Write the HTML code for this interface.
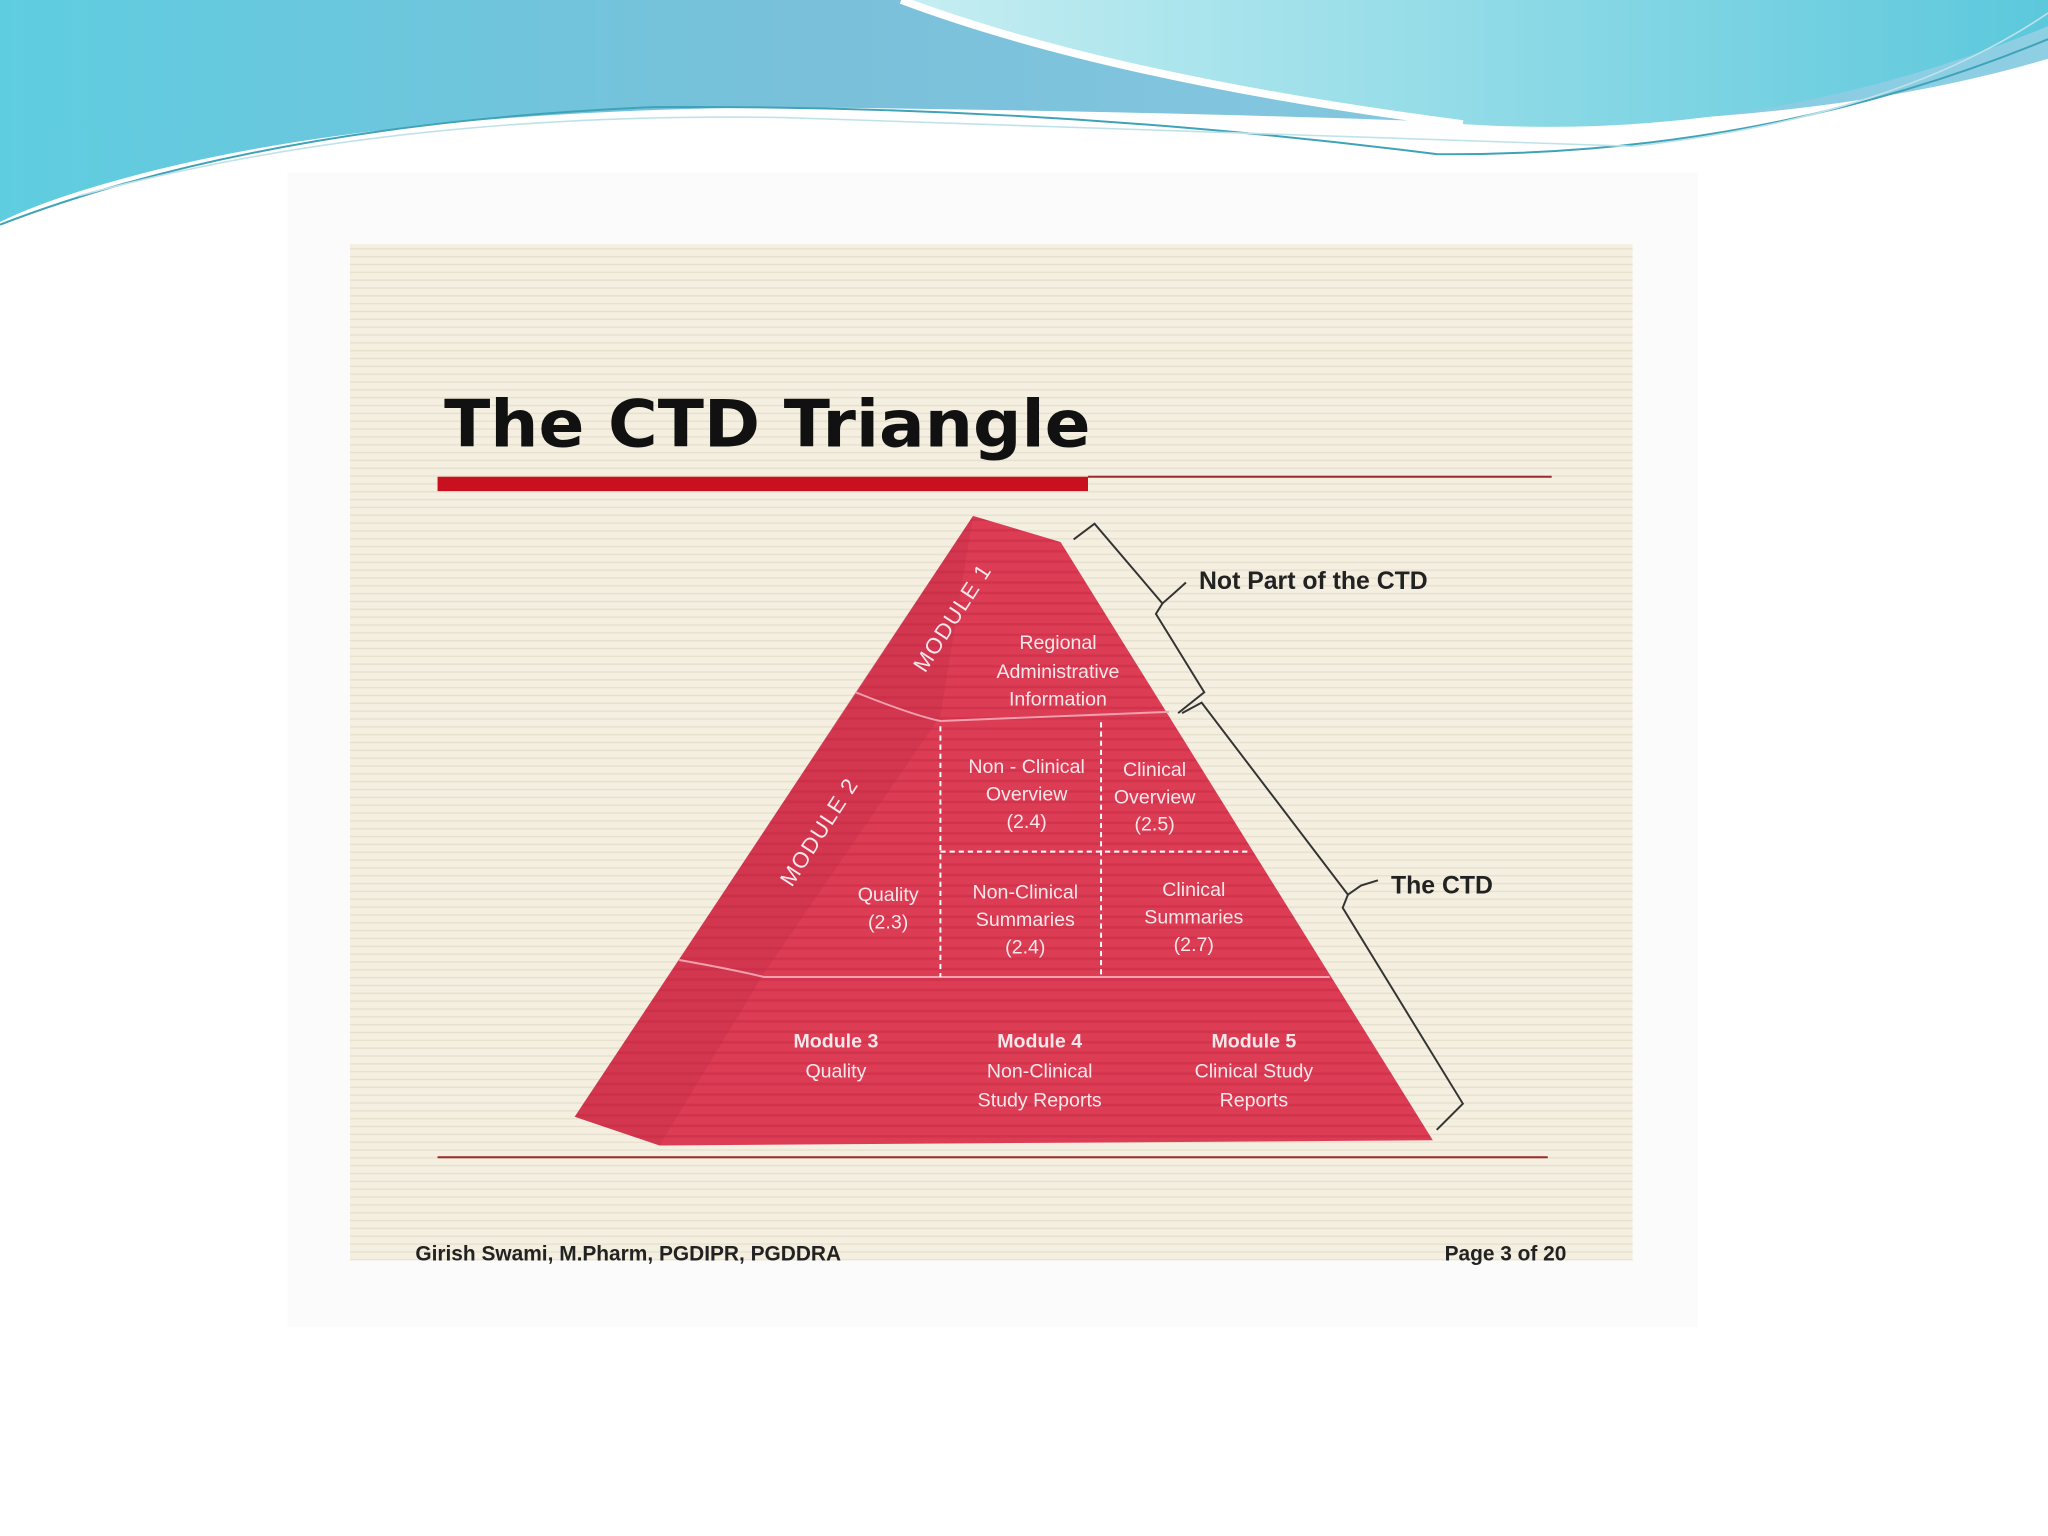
<!DOCTYPE html>
<html><head><meta charset="utf-8"><style>
html,body{margin:0;padding:0;background:#fff;}
svg{display:block;}
</style></head><body>
<svg width="2048" height="1536" viewBox="0 0 1568 1176" xmlns="http://www.w3.org/2000/svg">
<defs>
<linearGradient id="bl" x1="0" y1="0" x2="1" y2="0">
<stop offset="0" stop-color="#5fcde0"/><stop offset="0.4" stop-color="#7ac0da"/><stop offset="1" stop-color="#8ecfe4"/>
</linearGradient>
<linearGradient id="cy" x1="0" y1="0" x2="1" y2="0">
<stop offset="0" stop-color="#c6eef2"/><stop offset="1" stop-color="#5cc8dc"/>
</linearGradient>
<pattern id="lines" width="4" height="6" patternUnits="userSpaceOnUse">
<rect width="4" height="6" fill="#f4efe0"/><rect y="4" width="4" height="1" fill="#e6dfcc"/>
</pattern>
<pattern id="rl" width="4" height="8" patternUnits="userSpaceOnUse">
<rect width="4" height="8" fill="#dc3d55"/><rect y="5" width="4" height="2" fill="#d2334c"/>
</pattern>
</defs>
<rect width="1568" height="1176" fill="#fff"/>
<path d="M0,0 L1568,0 L1568,45 Q1400,95 1150,95 Q900,85 600,82 Q300,85 120,130 Q40,150 0,170 Z" fill="url(#bl)"/>
<path d="M690,0 Q850,60 1120,95 Q1350,110 1568,20 L1568,0 Z" fill="url(#cy)"/>
<path d="M690,0 Q850,60 1120,95" stroke="#fff" stroke-width="6" fill="none"/>
<path d="M0,172 Q200,95 500,82 Q800,80 1100,118 Q1350,120 1568,30" stroke="#3fa3b8" stroke-width="1.5" fill="none"/>
<path d="M60,150 Q300,85 600,90 Q900,100 1250,112 Q1450,90 1568,10" stroke="#bfe2ea" stroke-width="1.2" fill="none"/>
<rect x="220" y="132" width="1080" height="884" fill="#fbfbfb"/>
<rect x="268" y="187" width="982" height="778" fill="url(#lines)"/>
<text x="340" y="342" font-family="DejaVu Sans, sans-serif" font-weight="bold" font-size="50" fill="#111" textLength="495" lengthAdjust="spacingAndGlyphs">The CTD Triangle</text>
<rect x="335" y="365" width="498" height="11" fill="#c8101e"/>
<line x1="833" y1="365" x2="1188" y2="365" stroke="#9b2a2a" stroke-width="1.5"/>
<line x1="335" y1="886" x2="1185" y2="886" stroke="#9b2a2a" stroke-width="1.5"/>
<path d="M745,395 L812,415 L1097,873 L505,877 L440,855 Z" fill="url(#rl)"/>
<path d="M745,395 L655,530 L520,735 L440,855 L505,877 L585,745 L720,548 Z" fill="#c42b44" opacity="0.35"/>
<path d="M655,530 Q700,548 720,552 L895,545" stroke="#f2a0ae" stroke-width="1.5" fill="none"/>
<path d="M520,735 Q560,742 585,748 L1018,748" stroke="#f2a0ae" stroke-width="1.5" fill="none"/>
<g stroke="#fff" stroke-width="1.5" stroke-dasharray="4,3">
<line x1="720" y1="556" x2="720" y2="748"/>
<line x1="843" y1="553" x2="843" y2="748"/>
<line x1="720" y1="652" x2="958" y2="652"/>
</g>
<g font-family="Liberation Sans, sans-serif" fill="#fbe6ea" font-size="15" text-anchor="middle">
<text x="810" y="497">Regional</text>
<text x="810" y="519">Administrative</text>
<text x="810" y="540">Information</text>
<text x="786" y="592">Non - Clinical</text>
<text x="786" y="613">Overview</text>
<text x="786" y="634">(2.4)</text>
<text x="884" y="594">Clinical</text>
<text x="884" y="615">Overview</text>
<text x="884" y="636">(2.5)</text>
<text x="680" y="690">Quality</text>
<text x="680" y="711">(2.3)</text>
<text x="785" y="688">Non-Clinical</text>
<text x="785" y="709">Summaries</text>
<text x="785" y="730">(2.4)</text>
<text x="914" y="686">Clinical</text>
<text x="914" y="707">Summaries</text>
<text x="914" y="728">(2.7)</text>
<text x="640" y="802" font-weight="bold">Module 3</text>
<text x="640" y="825">Quality</text>
<text x="796" y="802" font-weight="bold">Module 4</text>
<text x="796" y="825">Non-Clinical</text>
<text x="796" y="847">Study Reports</text>
<text x="960" y="802" font-weight="bold">Module 5</text>
<text x="960" y="825">Clinical Study</text>
<text x="960" y="847">Reports</text>
<text transform="translate(734,476) rotate(-57)" font-size="17" letter-spacing="1">MODULE 1</text>
<text transform="translate(632,640) rotate(-57)" font-size="17" letter-spacing="1">MODULE 2</text>
</g>
<g stroke="#333" stroke-width="1.5" fill="none">
<polyline points="822,413 838,401 890,462 885,470 922,530 902,546"/>
<polyline points="890,462 898,455 908,446"/>
<polyline points="905,546 920,538 1032,685 1028,695 1120,845 1100,865"/>
<polyline points="1032,685 1042,678 1055,674"/>
</g>
<g font-family="Liberation Sans, sans-serif" font-weight="bold" fill="#222">
<text x="918" y="451" font-size="19">Not Part of the CTD</text>
<text x="1065" y="684" font-size="19">The CTD</text>
<text x="318" y="965" font-size="16">Girish Swami, M.Pharm, PGDIPR, PGDDRA</text>
<text x="1106" y="965" font-size="16">Page 3 of 20</text>
</g>
</svg>
</body></html>
